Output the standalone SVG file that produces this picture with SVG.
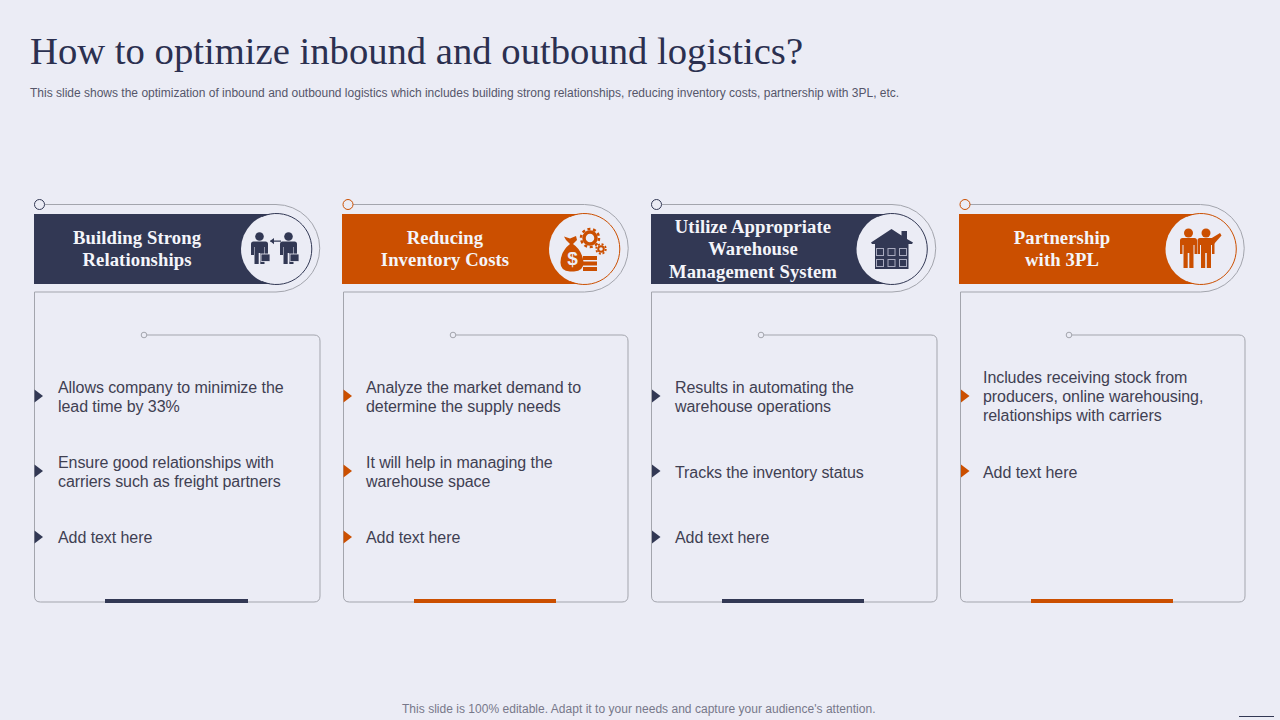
<svg xmlns="http://www.w3.org/2000/svg" xmlns:xlink="http://www.w3.org/1999/xlink" width="1280" height="720" viewBox="0 0 1280 720">
<style>
.bg{fill:#ebecf5}
.title{font:38.67px "Liberation Serif",serif;fill:#2b3050}
.sub{font:12px "Liberation Sans",Arial,sans-serif;fill:#55566a}
.foot{font:12px "Liberation Sans",Arial,sans-serif;fill:#77788a;letter-spacing:.025px}
.head{font:bold 18.67px "Liberation Serif",serif;fill:#f4f5fa;text-anchor:middle;letter-spacing:.1px}
.body{font:16px "Liberation Sans",Arial,sans-serif;fill:#3f4052;letter-spacing:-.07px}
.line{fill:none;stroke:#a3a5ad;stroke-width:1}
.navy{fill:#323854}
.orange{fill:#cb4f00}
.snavy{stroke:#323854}
.sorange{stroke:#cb4f00}
</style>
<defs>
<path id="tri" d="M0-6.500L8.500 0 0 6.500Z"/>
<g id="man">
<circle cx="0" cy="-13.500" r="4.300"/>
<path d="M-6-8.500H6Q8.500-8.500 8.500-6V5H5.500V-3H5V14H.8V3H-.8V14H-5V-3H-5.500V5H-8.500V-6Q-8.500-8.500-6-8.500Z"/>
</g>
<g id="man2">
<circle cx="0" cy="-14" r="4.500"/>
<path d="M-6-9H6Q8.500-9 8.500-6.500V7H6V-2H5V21H.8V6H-.8V21H-5V-2H-6V7H-8.500V-6.500Q-8.500-9-6-9Z"/>
</g>
</defs>
<rect class="bg" width="1280" height="720"/>
<text class="title" x="30" y="64">How to optimize inbound and outbound logistics?</text>
<text class="sub" x="30" y="97">This slide shows the optimization of inbound and outbound logistics which includes building strong relationships, reducing inventory costs, partnership with 3PL, etc.</text>

<g id="connectors">
<path class="line" d="M45 204.500H276A43.750 43.750 0 0 1 276 292H34.500V596Q34.500 602 40.500 602H314Q320 602 320 596V341Q320 335 314 335H147"/>
<path class="line" d="M353 204.500H584.500A43.750 43.750 0 0 1 584.500 292H343.500V596Q343.500 602 349.500 602H622Q628 602 628 596V341Q628 335 622 335H456"/>
<path class="line" d="M662 204.500H892A43.750 43.750 0 0 1 892 292H651.500V596Q651.500 602 657.500 602H931Q937 602 937 596V341Q937 335 931 335H764"/>
<path class="line" d="M970 204.500H1200.500A43.750 43.750 0 0 1 1200.500 292H960.500V596Q960.500 602 966.500 602H1239Q1245 602 1245 596V341Q1245 335 1239 335H1072"/>
</g>

<g id="card1">
<circle cx="39.500" cy="204.500" r="5" fill="none" class="snavy" stroke-width="1"/>
<circle cx="144" cy="335" r="2.800" class="bg" stroke="#a3a5ad"/>
<rect class="navy" x="34" y="214" width="243" height="70"/>
<circle class="bg" cx="276.500" cy="249" r="35.500"/>
<path d="M262 216.500A35.500 35.500 0 1 1 262 281.500" fill="none" class="snavy" stroke-width="1"/>
<text class="head" x="137" y="244">Building Strong</text>
<text class="head" x="137" y="266">Relationships</text>
<g class="navy">
<use xlink:href="#man" x="259.500" y="250"/>
<use xlink:href="#man" x="288.500" y="250"/>
<path d="M270 240.500H281V241.800H270ZM270 241.100L274 238V244.200Z"/>
</g>
<g class="navy" stroke="#ebecf5" stroke-width=".8">
<rect x="261" y="254" width="9" height="7.500"/>
<rect x="290" y="254" width="9" height="7.500"/>
</g>
<rect class="navy" x="105" y="599" width="143" height="4"/>
<use xlink:href="#tri" class="navy" x="34.500" y="396"/>
<use xlink:href="#tri" class="navy" x="34.500" y="471"/>
<use xlink:href="#tri" class="navy" x="34.500" y="537"/>
<text class="body" x="58" y="393">Allows company to minimize the</text>
<text class="body" x="58" y="412">lead time by 33%</text>
<text class="body" x="58" y="468">Ensure good relationships with</text>
<text class="body" x="58" y="487">carriers such as freight partners</text>
<text class="body" x="58" y="543">Add text here</text>
</g>

<g id="card2">
<circle cx="348" cy="204.500" r="5" fill="none" class="sorange" stroke-width="1"/>
<circle cx="453" cy="335" r="2.800" class="bg" stroke="#a3a5ad"/>
<rect class="orange" x="342" y="214" width="243" height="70"/>
<circle class="bg" cx="584.500" cy="249" r="35.500"/>
<path d="M570 216.500A35.500 35.500 0 1 1 570 281.500" fill="none" class="sorange" stroke-width="1"/>
<text class="head" x="445" y="244">Reducing</text>
<text class="head" x="445" y="266">Inventory Costs</text>
<g class="orange">
<path d="M564 236.500L570 238.500 576 236 577 240 573 244Q582 250 583.500 262Q584 271 574 271.500H570Q560 271 560.500 262Q561 251 570 244L566 240Z"/>
<rect x="583" y="256" width="14" height="4"/><rect x="583" y="261.500" width="14" height="4"/><rect x="583" y="267" width="14" height="4"/>
<circle cx="590" cy="238" r="6" fill="none" stroke="#cb4f00" stroke-width="3.500"/>
<circle cx="590" cy="238" r="9" fill="none" stroke="#cb4f00" stroke-width="2.500" stroke-dasharray="3 2.650"/>
<circle cx="601" cy="249" r="2.800" fill="none" stroke="#cb4f00" stroke-width="2"/>
<circle cx="601" cy="249" r="4.800" fill="none" stroke="#cb4f00" stroke-width="1.800" stroke-dasharray="2 1.770"/>
</g>
<text x="572.500" y="265" text-anchor="middle" style="font:bold 19px 'Liberation Sans',sans-serif" fill="#ebecf5">$</text>
<rect class="orange" x="414" y="599" width="142" height="4"/>
<use xlink:href="#tri" class="orange" x="343.500" y="396"/>
<use xlink:href="#tri" class="orange" x="343.500" y="471"/>
<use xlink:href="#tri" class="orange" x="343.500" y="537"/>
<text class="body" x="366" y="393">Analyze the market demand to</text>
<text class="body" x="366" y="412">determine the supply needs</text>
<text class="body" x="366" y="468">It will help in managing the</text>
<text class="body" x="366" y="487">warehouse space</text>
<text class="body" x="366" y="543">Add text here</text>
</g>

<g id="card3">
<circle cx="656.500" cy="204.500" r="5" fill="none" class="snavy" stroke-width="1"/>
<circle cx="761" cy="335" r="2.800" class="bg" stroke="#a3a5ad"/>
<rect class="navy" x="651" y="214" width="242" height="70"/>
<circle class="bg" cx="892" cy="249" r="35.500"/>
<path d="M877.500 216.500A35.500 35.500 0 1 1 877.500 281.500" fill="none" class="snavy" stroke-width="1"/>
<text class="head" x="753" y="233">Utilize Appropriate</text>
<text class="head" x="753" y="255">Warehouse</text>
<text class="head" x="753" y="278">Management System</text>
<g class="navy">
<path d="M871 242.500L891.500 229 901.500 235.500V231H907V239L913 242.500 912 244H872Z"/>
<rect x="875" y="243" width="33.500" height="26"/>
</g>
<g fill="none" stroke="#a9abbf" stroke-width="1">
<rect x="876.500" y="248.500" width="7" height="7"/><rect x="888" y="248.500" width="7" height="7"/><rect x="899.500" y="248.500" width="7" height="7"/>
<rect x="876.500" y="259.500" width="7" height="7"/><rect x="888" y="259.500" width="7" height="7"/><rect x="899.500" y="259.500" width="7" height="7"/>
</g>
<rect class="navy" x="722" y="599" width="142" height="4"/>
<use xlink:href="#tri" class="navy" x="652" y="396"/>
<use xlink:href="#tri" class="navy" x="652" y="471"/>
<use xlink:href="#tri" class="navy" x="652" y="537"/>
<text class="body" x="675" y="393">Results in automating the</text>
<text class="body" x="675" y="412">warehouse operations</text>
<text class="body" x="675" y="478">Tracks the inventory status</text>
<text class="body" x="675" y="543">Add text here</text>
</g>

<g id="card4">
<circle cx="965" cy="204.500" r="5" fill="none" class="sorange" stroke-width="1"/>
<circle cx="1069" cy="335" r="2.800" class="bg" stroke="#a3a5ad"/>
<rect class="orange" x="959" y="214" width="242" height="70"/>
<circle class="bg" cx="1201" cy="249" r="35.500"/>
<path d="M1186.500 216.500A35.500 35.500 0 1 1 1186.500 281.500" fill="none" class="sorange" stroke-width="1"/>
<text class="head" x="1062" y="244">Partnership</text>
<text class="head" x="1062" y="266">with 3PL</text>
<g class="orange">
<use xlink:href="#man2" x="1188.500" y="247"/>
<use xlink:href="#man2" x="1206" y="247"/>
<path d="M1211 238.500L1220 233 1221.500 235.500 1214 244Z"/>
</g>
<rect class="orange" x="1031" y="599" width="142" height="4"/>
<use xlink:href="#tri" class="orange" x="961" y="396"/>
<use xlink:href="#tri" class="orange" x="961" y="471"/>
<text class="body" x="983" y="383">Includes receiving stock from</text>
<text class="body" x="983" y="402">producers, online warehousing,</text>
<text class="body" x="983" y="421">relationships with carriers</text>
<text class="body" x="983" y="478">Add text here</text>
</g>

<text class="foot" x="402" y="713">This slide is 100% editable. Adapt it to your needs and capture your audience's attention.</text>
<rect x="1239" y="716" width="35" height="1" fill="#323854"/>
</svg>
